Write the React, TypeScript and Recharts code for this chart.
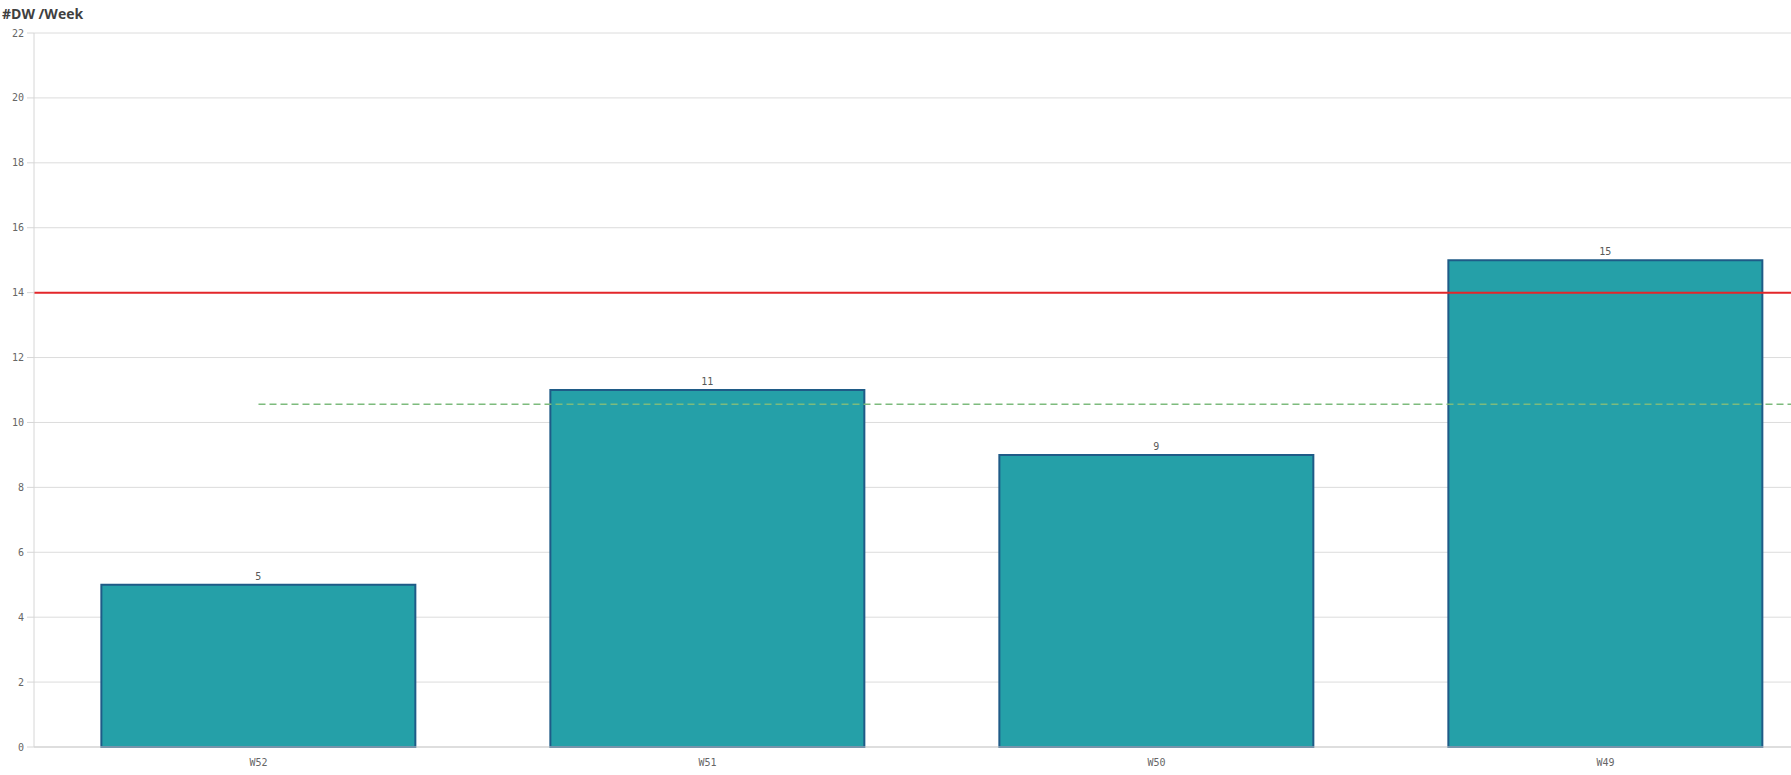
import React from "react";
import {
  BarChart,
  Bar,
  XAxis,
  YAxis,
  CartesianGrid,
  ReferenceLine,
  LabelList,
} from "recharts";

const weeks = ["W52", "W51", "W50", "W49"];
const dwCounts = [5, 11, 9, 15];
const yTicks = [0, 2, 4, 6, 8, 10, 12, 14, 16, 18, 20, 22];
const targetLine = 14;
const averageLine = 10.56;

const data = weeks.map((week, i) => ({ week, count: dwCounts[i] }));

const tickFont = { fontSize: 10, fontFamily: "'DejaVu Sans Mono', monospace", fill: "#666" };

// dashed average line: starts at the centre of the first week, runs to the right edge
function AverageShape(props: any) {
  const { x1, x2, y1 } = props;
  const band = (x2 - x1) / weeks.length;
  return (
    <line
      x1={x1 + band / 2}
      x2={x2}
      y1={y1}
      y2={y1}
      stroke="#7dbb7d"
      strokeWidth={1.5}
      strokeDasharray="7 4"
    />
  );
}

export default function App() {
  return (
    <div
      style={{
        position: "fixed",
        top: 0,
        left: 0,
        width: 1791,
        height: 775,
        overflow: "hidden",
        background: "#fff",
      }}
    >
      <div
        style={{
          position: "absolute",
          top: 4,
          left: 2,
          fontFamily: "'Open Sans', Arial, sans-serif",
          fontWeight: 700,
          fontSize: 14,
          color: "#404040",
        }}
      >
        #DW /Week
      </div>
      <BarChart
        width={1830}
        height={775}
        data={data}
        barCategoryGap="15%"
        margin={{ top: 33, right: 0, left: 0, bottom: 0 }}
      >
        <CartesianGrid vertical={false} stroke="#dcdcdc" />
        <XAxis
          dataKey="week"
          height={28}
          tickLine={false}
          axisLine={{ stroke: "#cfcfcf" }}
          tick={tickFont}
          tickMargin={6}
        />
        <YAxis
          width={34}
          domain={[0, 22]}
          ticks={yTicks}
          interval={0}
          tickSize={7}
          tickLine={{ stroke: "#d6d6d6" }}
          axisLine={{ stroke: "#d6d6d6" }}
          tick={tickFont}
          tickMargin={3}
        />
        <Bar
          dataKey="count"
          fill="#25a0a8"
          stroke="#1f5b87"
          strokeWidth={2}
          isAnimationActive={false}
        >
          <LabelList
            dataKey="count"
            position="top"
            offset={5}
            style={{ fontSize: 10, fontFamily: "'DejaVu Sans Mono', monospace", fill: "#595959" }}
          />
        </Bar>
        <ReferenceLine y={targetLine} stroke="#e3262a" strokeWidth={2} />
        <ReferenceLine y={averageLine} shape={AverageShape} />
      </BarChart>
    </div>
  );
}
